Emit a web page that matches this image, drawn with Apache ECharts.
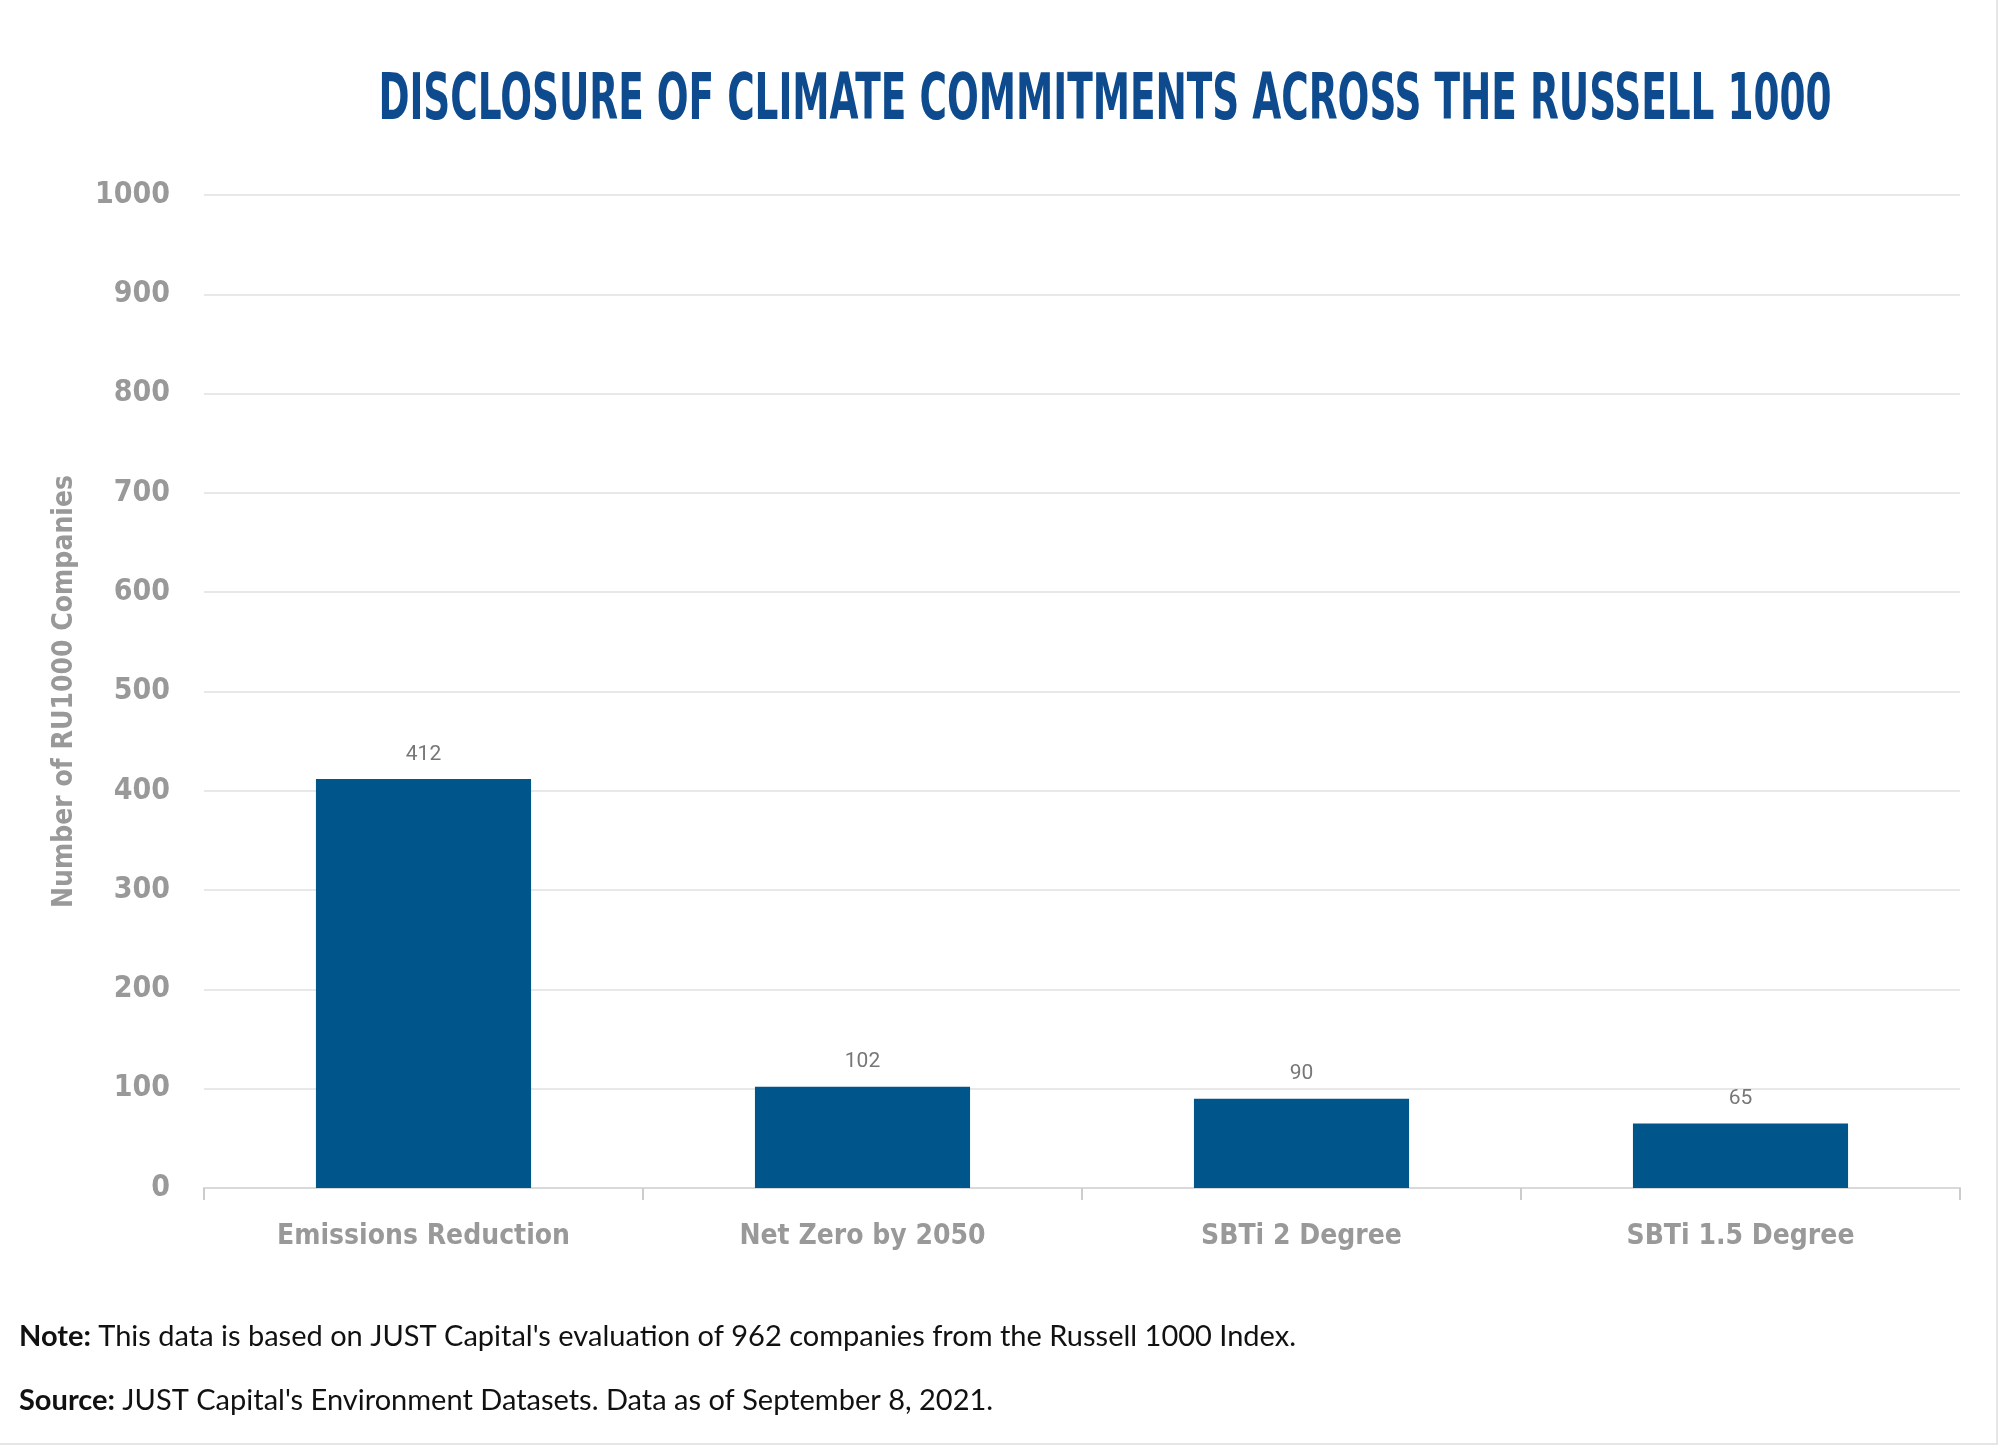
<!DOCTYPE html>
<html>
<head>
<meta charset="utf-8">
<script src="https://cdn.jsdelivr.net/npm/echarts@6/dist/echarts.min.js"></script>
<style>
    html, body { margin: 0; padding: 0; background: #fff; }
    #chart { width: 1999px; height: 1447px; }
</style>
</head>
<body>
<div id="chart"></div>
<script>
var categories = ['Emissions Reduction', 'Net Zero by 2050', 'SBTi 2 Degree', 'SBTi 1.5 Degree'];
var companies = [412, 102, 90, 65];
var titleText = 'DISCLOSURE OF CLIMATE COMMITMENTS ACROSS THE RUSSELL 1000';
var noteText = "This data is based on JUST Capital's evaluation of 962 companies from the Russell 1000 Index.";
var sourceText = "JUST Capital's Environment Datasets. Data as of September 8, 2021.";

var narrow = '"DejaVu Sans Condensed", "Liberation Sans Narrow", sans-serif';

var myChart = echarts.init(document.getElementById('chart'));
var option = {
    backgroundColor: '#fff',
    animation: false,
    grid: {
        left: 204,
        right: 39,
        top: 195,
        bottom: 259
    },
    xAxis: {
        type: 'category',
        data: categories,
        axisLine: { show: true, lineStyle: { color: '#d9d9d9', width: 2 } },
        axisTick: {
            show: true,
            alignWithLabel: false,
            interval: 0,
            length: 12,
            lineStyle: { color: '#cccccc', width: 2 }
        },
        axisLabel: {
            interval: 0,
            margin: 35,
            fontFamily: narrow,
            fontWeight: 'bold',
            fontSize: 28,
            color: '#999999'
        }
    },
    yAxis: {
        type: 'value',
        min: 0,
        max: 1000,
        interval: 100,
        name: 'Number of RU1000 Companies',
        nameLocation: 'middle',
        nameGap: 125,
        nameTextStyle: {
            fontFamily: narrow,
            fontWeight: 'bold',
            fontSize: 28,
            color: '#999999'
        },
        axisLine: { show: false },
        axisTick: { show: false },
        splitLine: { lineStyle: { color: '#e8e8e8', width: 2 } },
        axisLabel: {
            margin: 34,
            fontFamily: narrow,
            fontWeight: 'bold',
            fontSize: 30,
            color: '#999999',
            formatter: function (v) { return String(v); }
        }
    },
    series: [
        {
            name: 'Companies',
            type: 'bar',
            data: companies,
            barWidth: '49%',
            itemStyle: { color: '#00568a' },
            label: {
                show: true,
                position: 'top',
                distance: 14,
                fontFamily: 'Roboto, sans-serif',
                fontSize: 21,
                color: '#777777'
            }
        }
    ],
    graphic: [
        {
            type: 'text',
            x: 1105,
            y: 102,
            scaleX: 0.65,
            style: {
                text: titleText,
                fontFamily: narrow,
                fontWeight: 'bold',
                fontSize: 64,
                fill: '#0d4b8e',
                textAlign: 'center',
                textVerticalAlign: 'middle'
            }
        },
        {
            type: 'text',
            x: 19,
            y: 1337,
            style: {
                text: '{b|Note:} ' + noteText,
                font: '29px Lato, sans-serif',
                fill: '#111111',
                textVerticalAlign: 'middle',
                rich: { b: { fontWeight: 'bold', fontSize: 29, fontFamily: 'Lato, sans-serif', fill: '#111111' } }
            }
        },
        {
            type: 'text',
            x: 19,
            y: 1401,
            style: {
                text: '{b|Source:} ' + sourceText,
                font: '29px Lato, sans-serif',
                fill: '#111111',
                textVerticalAlign: 'middle',
                rich: { b: { fontWeight: 'bold', fontSize: 29, fontFamily: 'Lato, sans-serif', fill: '#111111' } }
            }
        },
        {
            type: 'line',
            shape: { x1: 1997, y1: 0, x2: 1997, y2: 1444 },
            style: { stroke: '#e6e6e6', lineWidth: 2 }
        },
        {
            type: 'line',
            shape: { x1: 0, y1: 1444, x2: 1998, y2: 1444 },
            style: { stroke: '#e6e6e6', lineWidth: 2 }
        }
    ]
};
myChart.setOption(option);
</script>
</body>
</html>
